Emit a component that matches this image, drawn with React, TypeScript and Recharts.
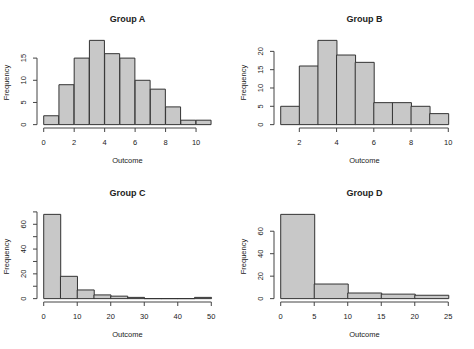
import React from 'react';
import { BarChart, Bar, XAxis, YAxis, ReferenceLine } from 'recharts';

// ---- Data ----
const groupAEdges = [0, 1, 2, 3, 4, 5, 6, 7, 8, 9, 10, 11];
const groupACounts = [2, 9, 15, 19, 16, 15, 10, 8, 4, 1, 1];
const groupAXTicks = [0, 2, 4, 6, 8, 10];
const groupAYTicks = [0, 5, 10, 15];
const groupAYLabels = [0, 5, 10, 15];

const groupBEdges = [1, 2, 3, 4, 5, 6, 7, 8, 9, 10];
const groupBCounts = [5, 16, 23, 19, 17, 6, 6, 5, 3];
const groupBXTicks = [2, 4, 6, 8, 10];
const groupBYTicks = [0, 5, 10, 15, 20];
const groupBYLabels = [0, 5, 10, 15, 20];

const groupCEdges = [0, 5, 10, 15, 20, 25, 30, 35, 40, 45, 50];
const groupCCounts = [68, 18, 7, 3, 2, 1, 0, 0, 0, 1];
const groupCXTicks = [0, 10, 20, 30, 40, 50];
const groupCYTicks = [0, 10, 20, 30, 40, 50, 60, 70];
const groupCYLabels = [0, 20, 40, 60];

const groupDEdges = [0, 5, 10, 15, 20, 25];
const groupDCounts = [75, 13, 5, 4, 3];
const groupDXTicks = [0, 5, 10, 15, 20, 25];
const groupDYTicks = [0, 20, 40, 60];
const groupDYLabels = [0, 20, 40, 60];

const titles = ['Group A', 'Group B', 'Group C', 'Group D'];
const xTitle = 'Outcome';
const yTitle = 'Frequency';

// ---- Styling ----
const FONT = '"Liberation Sans", Arial, Helvetica, sans-serif';
const TEXT = '#222';
const AXIS = '#444';
const PW = 237;
const PH = 175;
const M = { top: 37, right: 19, bottom: 0, left: 7 };
const YW = 30;
const XH = 47;

const HistRect = (props: any) => {
  const { x, y, width, height } = props;
  if (x == null || y == null || width == null) return null;
  const h = height || 0;
  return (
    <path
      d={`M${x},${y + h}V${y}H${x + width}V${y + h}Z`}
      fill="#c8c8c8"
      stroke="#333"
      strokeWidth={1}
    />
  );
};

const makeXTick = () => (props: any) => {
  const { x, y, payload } = props;
  return (
    <text x={x} y={y + 10} textAnchor="middle" dominantBaseline="central" fontSize={7.5} fill={TEXT} fontFamily={FONT}>
      {payload.value}
    </text>
  );
};

const makeYTick = (labels: number[]) => (props: any) => {
  const { x, y, payload } = props;
  if (!labels.includes(payload.value)) return <g />;
  const cx = x - 9.3;
  return (
    <text
      x={cx}
      y={y}
      textAnchor="middle"
      dominantBaseline="central"
      fontSize={7.5}
      fill={TEXT}
      fontFamily={FONT}
      transform={`rotate(-90 ${cx} ${y})`}
    >
      {payload.value}
    </text>
  );
};

type PanelProps = {
  left: number;
  top: number;
  title: string;
  edges: number[];
  counts: number[];
  xTicks: number[];
  yTicks: number[];
  yLabels: number[];
};

const Panel = ({ left, top, title, edges, counts, xTicks, yTicks, yLabels }: PanelProps) => {
  const data = counts.map((c, i) => ({ mid: (edges[i] + edges[i + 1]) / 2, count: c }));
  const xMin = edges[0];
  const xMax = edges[edges.length - 1];
  const xr = xMax - xMin;
  const xLo = xMin - 0.04 * xr;
  const xHi = xMax + 0.04 * xr;
  const yMax = Math.max(...counts);
  const yLo = -0.04 * yMax;
  const yHi = 1.04 * yMax;
  const plotW = PW - M.left - M.right - YW;
  const plotCx = M.left + YW + plotW / 2;
  const plotCy = M.top + (PH - M.top - XH) / 2;

  return (
    <div style={{ position: 'absolute', left, top, width: PW, height: PH }}>
      <BarChart width={PW} height={PH} data={data} margin={M} barCategoryGap={0} barGap={0}>
        <XAxis
          dataKey="mid"
          type="number"
          domain={[xLo, xHi]}
          ticks={xTicks}
          allowDataOverflow
          height={XH}
          axisLine={false}
          tickSize={4}
          tickMargin={0}
          tickLine={{ stroke: AXIS }}
          tick={makeXTick()}
          interval={0}
        />
        <YAxis
          type="number"
          domain={[yLo, yHi]}
          ticks={yTicks}
          allowDataOverflow
          width={YW}
          axisLine={false}
          tickSize={4}
          tickMargin={0}
          tickLine={{ stroke: AXIS }}
          tick={makeYTick(yLabels)}
          interval={0}
        />
        <Bar dataKey="count" isAnimationActive={false} shape={HistRect} />
        <ReferenceLine
          ifOverflow="visible"
          segment={[{ x: xTicks[0], y: yLo }, { x: xTicks[xTicks.length - 1], y: yLo }]}
          stroke={AXIS}
          strokeWidth={1}
        />
        <ReferenceLine
          ifOverflow="visible"
          segment={[{ x: xLo, y: yTicks[0] }, { x: xLo, y: yTicks[yTicks.length - 1] }]}
          stroke={AXIS}
          strokeWidth={1}
        />
      </BarChart>
      <svg width={PW} height={PH} style={{ position: 'absolute', left: 0, top: 0, pointerEvents: 'none' }}>
        <text x={plotCx} y={19.3} textAnchor="middle" dominantBaseline="central" fontSize={9} fontWeight="bold" fill={TEXT} fontFamily={FONT}>
          {title}
        </text>
        <text x={plotCx} y={160.3} textAnchor="middle" dominantBaseline="central" fontSize={7.5} fill={TEXT} fontFamily={FONT}>
          {xTitle}
        </text>
        <text
          x={6}
          y={plotCy}
          textAnchor="middle"
          dominantBaseline="central"
          fontSize={7.5}
          fill={TEXT}
          fontFamily={FONT}
          transform={`rotate(-90 6 ${plotCy})`}
        >
          {yTitle}
        </text>
      </svg>
    </div>
  );
};

export default function App() {
  return (
    <div style={{ position: 'absolute', left: 0, top: 0, width: 474, height: 349, background: '#fff', overflow: 'hidden' }}>
      <Panel left={0} top={0} title={titles[0]} edges={groupAEdges} counts={groupACounts} xTicks={groupAXTicks} yTicks={groupAYTicks} yLabels={groupAYLabels} />
      <Panel left={237} top={0} title={titles[1]} edges={groupBEdges} counts={groupBCounts} xTicks={groupBXTicks} yTicks={groupBYTicks} yLabels={groupBYLabels} />
      <Panel left={0} top={174} title={titles[2]} edges={groupCEdges} counts={groupCCounts} xTicks={groupCXTicks} yTicks={groupCYTicks} yLabels={groupCYLabels} />
      <Panel left={237} top={174} title={titles[3]} edges={groupDEdges} counts={groupDCounts} xTicks={groupDXTicks} yTicks={groupDYTicks} yLabels={groupDYLabels} />
    </div>
  );
}
